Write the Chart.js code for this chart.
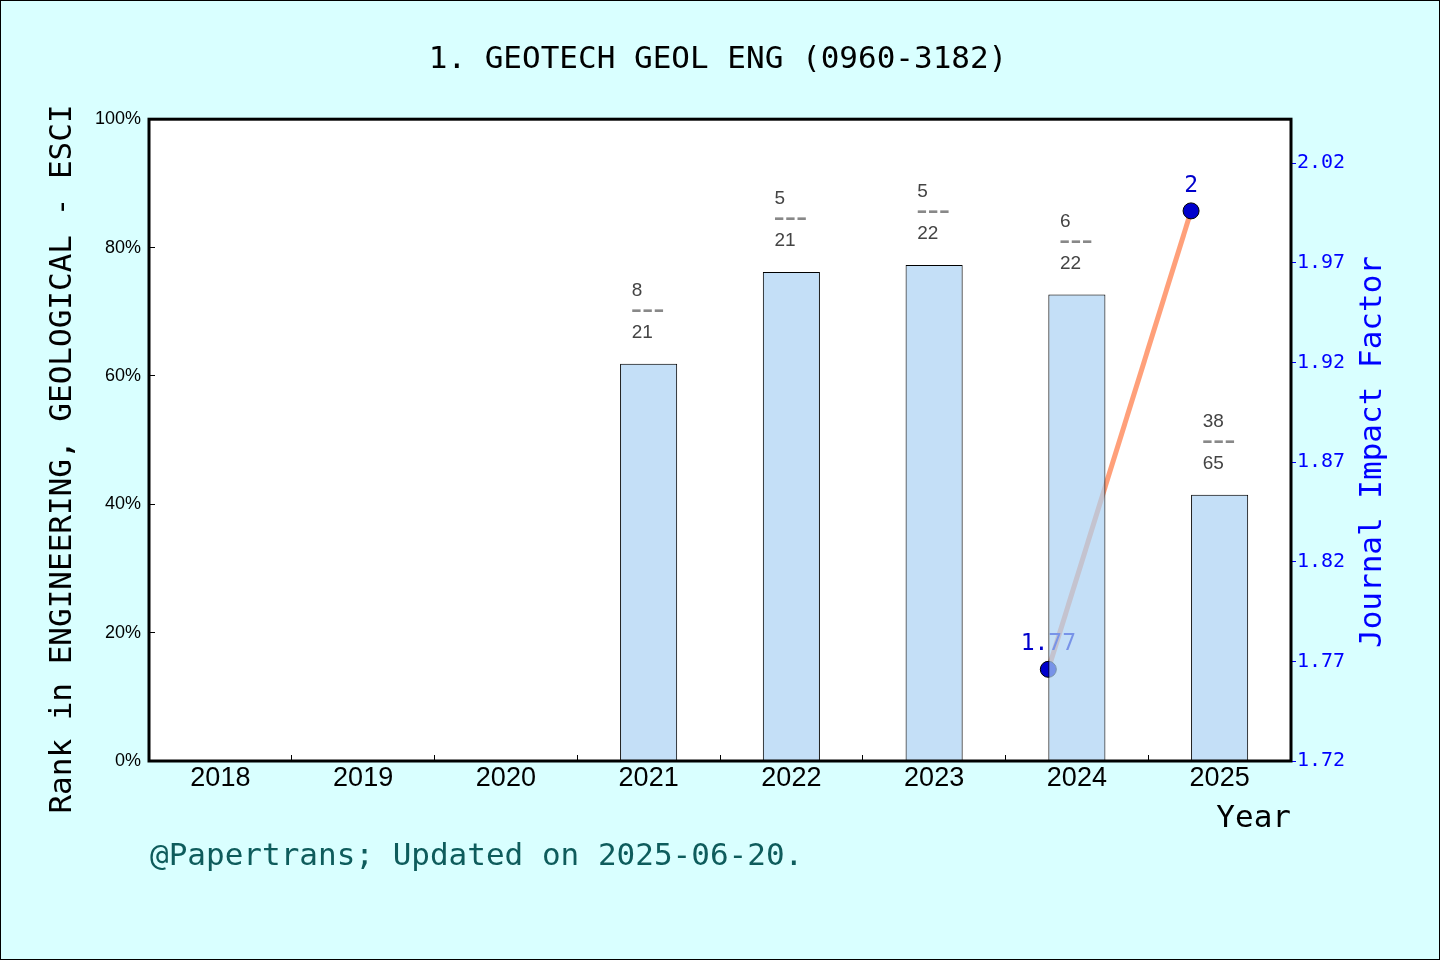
<!DOCTYPE html>
<html>
<head>
<meta charset="utf-8">
<title>GEOTECH GEOL ENG</title>
<script src="https://cdn.jsdelivr.net/npm/chart.js@4.4.1/dist/chart.umd.min.js"></script>
<style>
  html, body { margin: 0; padding: 0; background: #d9ffff; }
  canvas { display: block; }
</style>
</head>
<body>
<canvas id="myChart" width="1440" height="960"></canvas>
<script>
// data
const years = ['2018', '2019', '2020', '2021', '2022', '2023', '2024', '2025'];
const rankShare = [null, null, null, 0.619, 0.762, 0.773, 0.727, 0.415];
const rankPos = [null, null, null, '8', '5', '5', '6', '38'];
const rankTotal = [null, null, null, '21', '21', '22', '22', '65'];
const ifYears = ['2024', '2025'];
const ifValues = [1.766, 1.996];
const leftTicks = [0, 0.2, 0.4, 0.6, 0.8, 1];
const rightTicks = [1.72, 1.77, 1.82, 1.87, 1.92, 1.97, 2.02];

const mono = "'DejaVu Sans Mono', 'Liberation Mono', monospace";
const sans = "'Liberation Sans', Arial, sans-serif";

// line points sit on the left edge of each bar
const ifPoints = ifYears.map((yr, i) => ({ x: years.indexOf(yr) - 0.2, y: ifValues[i] }));

const decor = {
  id: 'decor',
  beforeDraw(chart) {
    const { ctx, chartArea: a } = chart;
    ctx.save();
    ctx.fillStyle = '#d9ffff';
    ctx.fillRect(0, 0, chart.width, chart.height);
    ctx.fillStyle = '#ffffff';
    ctx.fillRect(a.left, a.top, a.right - a.left, a.bottom - a.top);
    ctx.restore();
  },
  afterDatasetDraw(chart, args) {
    // impact factor labels go under the bars
    if (args.index !== 1) return;
    const { ctx } = chart;
    ctx.save();
    ctx.fillStyle = '#0000cc';
    ctx.font = '23px ' + mono;
    ctx.textAlign = 'center';
    ctx.textBaseline = 'middle';
    args.meta.data.forEach((pt, i) => {
      ctx.fillText(String(parseFloat(ifValues[i].toFixed(2))), pt.x, pt.y - 25);
    });
    ctx.restore();
  },
  afterDatasetsDraw(chart) {
    const { ctx } = chart;
    const meta = chart.getDatasetMeta(0);
    ctx.save();
    ctx.textAlign = 'left';
    ctx.textBaseline = 'middle';
    meta.data.forEach((bar, i) => {
      if (rankShare[i] == null) return;
      const x = bar.x - 17;
      ctx.fillStyle = '#444444';
      ctx.font = '19px ' + sans;
      ctx.fillText(rankPos[i], x, bar.y - 73);
      ctx.fillText(rankTotal[i], x, bar.y - 31);
      ctx.fillStyle = '#888888';
      ctx.font = '34px ' + sans;
      ctx.fillText('---', x - 1, bar.y - 53);
    });
    ctx.restore();
  },
  afterDraw(chart) {
    const { ctx, chartArea: a } = chart;
    ctx.save();
    ctx.strokeStyle = '#000';
    ctx.lineWidth = 3;
    ctx.strokeRect(a.left, a.top, a.right - a.left, a.bottom - a.top);
    ctx.lineWidth = 1;
    ctx.strokeRect(0.5, 0.5, chart.width - 1, chart.height - 1);

    ctx.font = '31px ' + mono;
    ctx.textAlign = 'center';
    ctx.textBaseline = 'middle';
    ctx.fillStyle = '#000';
    ctx.save();
    ctx.translate(63, 459);
    ctx.rotate(-Math.PI / 2);
    ctx.fillText('Rank in ENGINEERING, GEOLOGICAL - ESCI', 0, 0);
    ctx.restore();

    ctx.fillStyle = '#0000ff';
    ctx.save();
    ctx.translate(1373, 452);
    ctx.rotate(-Math.PI / 2);
    ctx.fillText('Journal Impact Factor', 0, 0);
    ctx.restore();

    ctx.fillStyle = '#0e5c5c';
    ctx.textAlign = 'left';
    ctx.fillText('@Papertrans; Updated on 2025-06-20.', 150, 857);
    ctx.restore();
  }
};

const data = {
  labels: years,
  datasets: [{
    type: 'bar',
    label: 'Rank',
    data: rankShare,
    backgroundColor: 'rgba(171, 209, 243, 0.7)',
    borderColor: '#000',
    borderWidth: 1,
    barPercentage: 0.4,
    categoryPercentage: 1,
    grouped: false,
    xAxisID: 'x',
    yAxisID: 'y',
    order: 0
  }, {
    type: 'line',
    label: 'Impact Factor',
    data: ifPoints,
    borderColor: '#ffa07a',
    borderWidth: 5,
    pointRadius: 8,
    pointBackgroundColor: '#0000cc',
    pointBorderColor: '#000',
    pointBorderWidth: 1,
    xAxisID: 'x2',
    yAxisID: 'y1',
    order: 1
  }]
};

const config = {
  type: 'bar',
  data: data,
  options: {
    responsive: false,
    animation: false,
    devicePixelRatio: 1,
    events: [],
    layout: { padding: { left: 44, right: 48, top: 0, bottom: 119 } },
    plugins: {
      legend: { display: false },
      tooltip: { enabled: false },
      title: {
        display: true,
        text: '1. GEOTECH GEOL ENG (0960-3182)',
        color: '#000',
        font: { family: mono, size: 31, weight: 'normal' },
        padding: { top: 41, bottom: 41 }
      }
    },
    scales: {
      x: {
        type: 'category',
        position: 'bottom',
        grid: { offset: true, drawOnChartArea: false, tickLength: -6, color: '#000' },
        border: { display: false },
        ticks: { color: '#000', font: { family: sans, size: 27 }, padding: 7 },
        title: {
          display: true, text: 'Year', align: 'end', color: '#000',
          font: { family: mono, size: 31 }, padding: { top: 0, bottom: 3 }
        },
        afterFit(s) { s.height = 80; }
      },
      x2: { type: 'linear', min: -0.5, max: 7.5, offset: false, display: false },
      y: {
        position: 'left',
        min: 0,
        max: 1,
        afterBuildTicks(s) { s.ticks = leftTicks.map(v => ({ value: v })); },
        grid: { drawOnChartArea: false, tickLength: -6, color: '#000' },
        border: { display: false },
        ticks: {
          color: '#000', font: { family: sans, size: 18 }, padding: 14,
          callback: v => Math.round(v * 100) + '%'
        },
        afterFit(s) { s.width = 105; }
      },
      y1: {
        position: 'right',
        min: 1.72,
        max: 2.042,
        afterBuildTicks(s) { s.ticks = rightTicks.map(v => ({ value: v })); },
        grid: { drawOnChartArea: false, tickLength: 5, color: '#0000ff' },
        border: { display: false },
        ticks: {
          color: '#0000ff', font: { family: mono, size: 20 }, padding: 1,
          callback: v => v.toFixed(2)
        },
        afterFit(s) { s.width = 101; }
      }
    }
  },
  plugins: [decor]
};

const myChart = new Chart(document.getElementById('myChart'), config);
</script>
</body>
</html>
